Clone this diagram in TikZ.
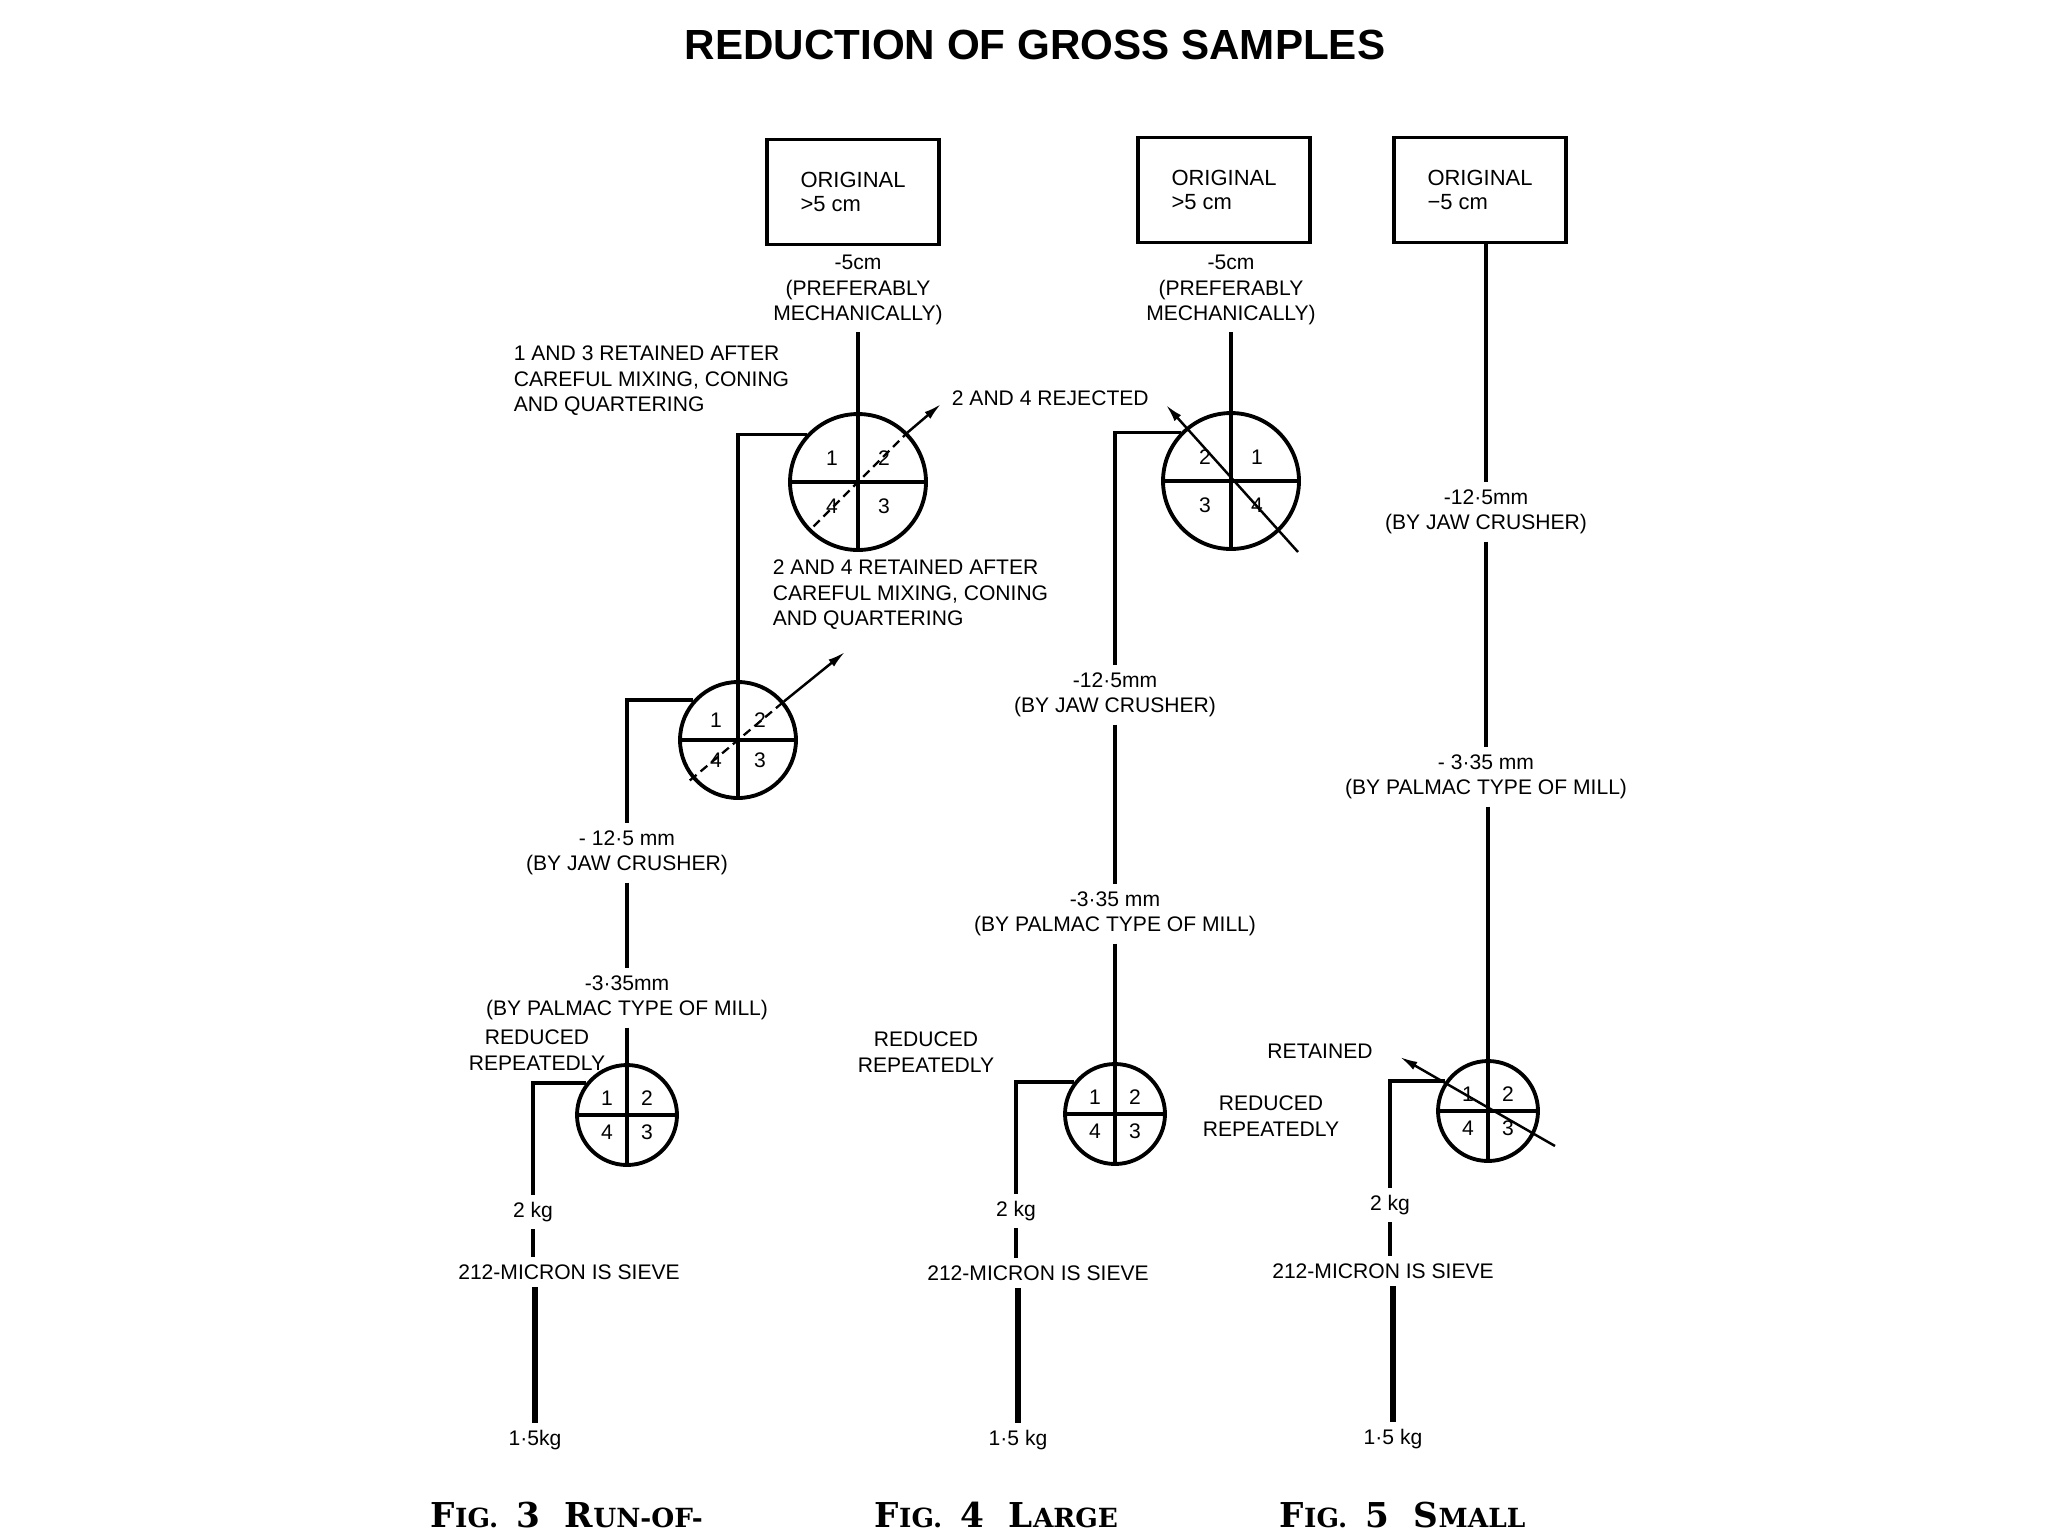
\documentclass[tikz,border=0pt]{standalone}
\usepackage{fontspec}
\setmainfont{Liberation Sans}
\newfontfamily\capfont{DejaVu Serif}
\usetikzlibrary{arrows.meta, positioning, calc}
\newcommand{\labfont}{\fontsize{12}{14.5}\selectfont}
\newcommand{\scbig}{\fontsize{19.5}{22}\selectfont}
\newcommand{\scsmall}{\fontsize{15}{18}\selectfont}
\tikzset{
    origbox/.style={
        rectangle, draw, line width=2.2pt,
        minimum width=3.44cm, minimum height=2.1cm,
        align=left, font=\fontsize{12.5}{14}\selectfont
    },
    quarter/.style={
        circle, draw, line width=2.2pt, minimum size=#1, inner sep=0pt
    },
    quarter/.default=2cm,
    lab/.style={
        align=center, font=\labfont, inner xsep=2pt, inner ysep=4pt
    },
    qnum/.style={font=\labfont, inner sep=1pt},
    figcap/.style={font=\capfont\bfseries, inner sep=2pt, anchor=west},
    flow/.style={line width=2pt},
    heavy/.style={line width=3.8pt},
    outarrow/.style={-{Latex[length=10pt,width=5pt]}, line width=1.4pt},
    cutline/.style={dash pattern=on 5pt off 3pt, line width=1.3pt},
}

\begin{document}
\begin{tikzpicture}[x=0.02cm, y=-0.02cm]
    \useasboundingbox (0,0) rectangle (2048,1536);

    \node[font=\fontsize{24}{28}\selectfont\bfseries] (title) at (1035,45) {REDUCTION OF GROSS SAMPLES};

    % Originals
    \node[origbox] (box1) at (853,192) {ORIGINAL\\>5 cm};
    \node[origbox] (box2) at (1224,190) {ORIGINAL\\>5 cm};
    \node[origbox] (box3) at (1480,190) {ORIGINAL\\−5 cm};

    % Fig. 3 run-of-mine
    \node[lab] (mech1) at (858,290) {-5cm\\(PREFERABLY\\MECHANICALLY)};
    \node[quarter=2.72cm] (c1) at (858,482) {};
    \node[lab, anchor=west] (rej) at (948,398) {2 AND 4 REJECTED};
    \node[lab, anchor=west, align=left] (ret13) at (510,381) {1 AND 3 RETAINED AFTER\\CAREFUL MIXING, CONING\\AND QUARTERING};
    \node[lab, anchor=west, align=left] (ret24) at (769,595) {2 AND 4 RETAINED AFTER\\CAREFUL MIXING, CONING\\AND QUARTERING};
    \node[quarter=2.32cm] (c2) at (738,740) {};
    \node[lab] (jaw1) at (627,853) {- 12·5 mm\\(BY JAW CRUSHER)};
    \node[lab] (palmac1) at (627,998) {-3·35mm\\(BY PALMAC TYPE OF MILL)};
    \node[quarter] (c3) at (627,1115) {};
    \node[lab] (rd1) at (537,1050) {REDUCED\\REPEATEDLY};
    \node[lab] (kg1) at (533,1212) {2 kg};
    \node[lab] (sieve1) at (569,1272) {212-MICRON IS SIEVE};
    \node[lab] (kg1b) at (535,1440) {1·5kg};
    \coordinate (t1) at (941,404);
    \coordinate (t2) at (845,652);

    % Fig. 4 large
    \node[lab] (mech2) at (1231,290) {-5cm\\(PREFERABLY\\MECHANICALLY)};
    \node[quarter=2.72cm] (c4) at (1231,481) {};
    \node[lab] (jaw2) at (1115,695) {-12·5mm\\(BY JAW CRUSHER)};
    \node[lab] (palmac2) at (1115,914) {-3·35 mm\\(BY PALMAC TYPE OF MILL)};
    \node[quarter] (c5) at (1115,1114) {};
    \node[lab] (rd2) at (926,1052) {REDUCED\\REPEATEDLY};
    \node[lab] (kg2) at (1016,1211) {2 kg};
    \node[lab] (sieve2) at (1038,1273) {212-MICRON IS SIEVE};
    \node[lab] (kg2b) at (1018,1440) {1·5 kg};
    \coordinate (c4end) at (1298,552);
    \coordinate (t4) at (1166,405);

    % Fig. 5 small
    \node[lab] (jaw3) at (1486,512) {-12·5mm\\(BY JAW CRUSHER)};
    \node[lab] (palmac3) at (1486,777) {- 3·35 mm\\(BY PALMAC TYPE OF MILL)};
    \node[quarter] (c6) at (1488,1111) {};
    \node[lab] (ret) at (1320,1051) {RETAINED};
    \node[lab] (rd3) at (1271,1116) {REDUCED\\REPEATEDLY};
    \node[lab] (kg3) at (1390,1205) {2 kg};
    \node[lab] (sieve3) at (1383,1271) {212-MICRON IS SIEVE};
    \node[lab] (kg3b) at (1393,1439) {1·5 kg};
    \coordinate (c6end) at (1555,1146);
    \coordinate (t6) at (1400,1057);

    % quarters
    \foreach \c/\d/\e in {c1/26/24, c2/22/20, c3/20/17, c5/20/17, c6/20/17} {
        \draw[flow, line width=2.2pt] (\c.west) -- (\c.east);
        \node[qnum] (\c-1) at ($(\c)+(-\d,-\e)$) {1};
        \node[qnum] (\c-2) at ($(\c)+(\d,-\e)$) {2};
        \node[qnum] (\c-4) at ($(\c)+(-\d,\e)$) {4};
        \node[qnum] (\c-3) at ($(\c)+(\d,\e)$) {3};
    }
    \draw[flow, line width=2.2pt] (c4.west) -- (c4.east);
    \node[qnum] (c4-2) at ($(c4)+(-26,-24)$) {2};
    \node[qnum] (c4-1) at ($(c4)+(26,-24)$) {1};
    \node[qnum] (c4-3) at ($(c4)+(-26,24)$) {3};
    \node[qnum] (c4-4) at ($(c4)+(26,24)$) {4};

    % main lines
    \draw[flow] (mech1) -- (c1.south);
    \draw[flow] (c1.137) -| (c2.north) -- (c2.south);
    \draw[flow] (c2.138) -| (jaw1.north);
    \draw[flow] (jaw1) -- (palmac1);
    \draw[flow] (palmac1) -- (c3.south);
    \draw[flow] (c3.142) -| (kg1.north);
    \draw[flow] (kg1) -- (kg1 |- sieve1.north);
    \draw[heavy] (kg1b |- sieve1.south) -- (kg1b);

    \draw[flow] (mech2) -- (c4.south);
    \draw[flow] (c4.136) -| (jaw2.north);
    \draw[flow] (jaw2) -- (palmac2);
    \draw[flow] (palmac2) -- (c5.south);
    \draw[flow] (c5.142) -| (kg2.north);
    \draw[flow] (kg2) -- (kg2 |- sieve2.north);
    \draw[heavy] (kg2b |- sieve2.south) -- (kg2b);

    \draw[flow] (jaw3 |- box3.south) -- (jaw3);
    \draw[flow] (jaw3) -- (palmac3);
    \draw[flow] (palmac3.south -| c6) -- (c6.south);
    \draw[flow] (c6.145) -| (kg3.north);
    \draw[flow] (kg3) -- (kg3 |- sieve3.north);
    \draw[heavy] (kg3b |- sieve3.south) -- (kg3b);

    % rejected / retained quarters
    \draw[cutline] ($(c1.center)!0.9!(c1.225)$) -- (c1.45);
    \draw[outarrow] (c1.45) -- (t1);
    \draw[cutline] ($(c2.center)!1.05!(c2.220)$) -- (c2.40);
    \draw[outarrow] (c2.40) -- (t2);
    \draw[outarrow] (c4end) -- (t4);
    \draw[outarrow] (c6end) -- (t6);

    % captions
    \node[figcap] (fig3) at (427,1515) {{\scbig F}{\scsmall IG.}\ \ \ {\scbig 3}\ \ \ \ {\scbig R}{\scsmall UN-OF-}};
    \node[figcap] (fig4) at (871,1515) {{\scbig F}{\scsmall IG.}\ \ \ {\scbig 4}\ \ \ \ {\scbig L}{\scsmall ARGE}};
    \node[figcap] (fig5) at (1276,1515) {{\scbig F}{\scsmall IG.}\ \ \ {\scbig 5}\ \ \ \ {\scbig S}{\scsmall MALL}};
\end{tikzpicture}
\end{document}
